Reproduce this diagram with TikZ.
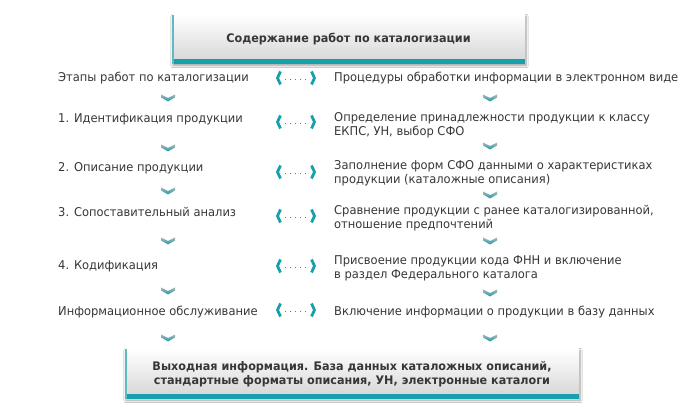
\documentclass[tikz,border=0pt]{standalone}
\usepackage{fontspec}
\setmainfont{DejaVu Sans}[FakeStretch=0.95]
\usetikzlibrary{shadows.blur}
\definecolor{katteal}{RGB}{22,160,172}
\definecolor{textgray}{RGB}{55,55,55}
\definecolor{boxgray}{RGB}{212,212,212}
\definecolor{chevgray}{RGB}{170,180,185}
\definecolor{bggray}{RGB}{226,226,226}
\pgfdeclareverticalshading{bgshade}{700bp}{color(0bp)=(bggray); color(120bp)=(white); color(560bp)=(white); color(700bp)=(bggray)}
\tikzset{
  chev/.pic={
    \shade[top color=chevgray,bottom color=katteal]
      (-7,3.5) -- (0,0) -- (7,3.5) -- (7,0.5) -- (0,-3.5) -- (-7,0.5) -- cycle;
  },
  linkarrow/.pic={
    \draw[katteal,line width=2.8pt] (-15.5,6.5) -- (-18.5,0) -- (-15.5,-6.5);
    \draw[katteal,line width=2.8pt] (15.5,6.5) -- (18.5,0) -- (15.5,-6.5);
    \draw[textgray!70,line width=1.1pt,dash pattern=on 1.1pt off 3.9pt] (-11,-1.5) -- (12,-1.5);
  },
  txt/.style={anchor=west,align=left,inner sep=0pt,text=textgray,
    font=\fontsize{12.1}{14}\selectfont},
  katbox/.style={inner sep=0pt,top color=white,bottom color=boxgray,
    blur shadow={shadow xshift=1pt,shadow yshift=-1.5pt,shadow blur steps=6},
    text=textgray,align=center,font=\bfseries\fontsize{11.8}{14}\selectfont}
}
\begin{document}
\begin{tikzpicture}[x=1pt,y=1pt]
\useasboundingbox (0,0) rectangle (700,417);
\shade[shading=bgshade] (0,0) rectangle (700,417);

% header and output boxes
\node[katbox,minimum width=353pt,minimum height=49pt] (head) at (348.5,377.5)
  {Содержание работ по каталогизации};
\fill[katteal] (head.south west) rectangle ([yshift=5pt]head.south east);
\fill[katteal!70] (head.south west) rectangle ([xshift=2pt]head.north west);

\node[katbox,minimum width=454pt,minimum height=50pt] (out) at (352,43)
  {Выходная информация. База данных каталожных описаний,\\
   стандартные форматы описания, УН, электронные каталоги};
\fill[katteal] (out.south west) rectangle ([yshift=5pt]out.south east);
\fill[katteal!70] (out.south west) rectangle ([xshift=2pt]out.north west);

% left column: stages
\node[txt] (L1) at (58,339) {Этапы работ по каталогизации};
\node[txt] (L2) at (58,298) {1. Идентификация продукции};
\node[txt] (L3) at (58,249) {2. Описание продукции};
\node[txt] (L4) at (58,205) {3. Сопоставительный анализ};
\node[txt] (L5) at (58,151) {4. Кодификация};
\node[txt] (L6) at (58,105) {Информационное обслуживание};

% right column: procedures
\node[txt] (R1) at (334,339) {Процедуры обработки информации в электронном виде};
\node[txt] (R2) at (334,292) {Определение принадлежности продукции к классу\\ЕКПС, УН, выбор СФО};
\node[txt] (R3) at (334,244) {Заполнение форм СФО данными о характеристиках\\продукции (каталожные описания)};
\node[txt] (R4) at (334,199) {Сравнение продукции с ранее каталогизированной,\\отношение предпочтений};
\node[txt] (R5) at (334,149) {Присвоение продукции кода ФНН и включение\\в раздел Федерального каталога};
\node[txt] (R6) at (334,105) {Включение информации о продукции в базу данных};

\foreach \y [count=\i] in {339,295,245,201,151,107}
{
    \coordinate (A\i) at (296,\y);
    \pic at (A\i) {linkarrow};
}

\foreach \y in {319,269,226,176,126,79}
{
    \pic at (168,\y) {chev};
}
\foreach \y in {319,271,222,176,124,79}
{
    \pic at (490,\y) {chev};
}

\end{tikzpicture}
\end{document}
